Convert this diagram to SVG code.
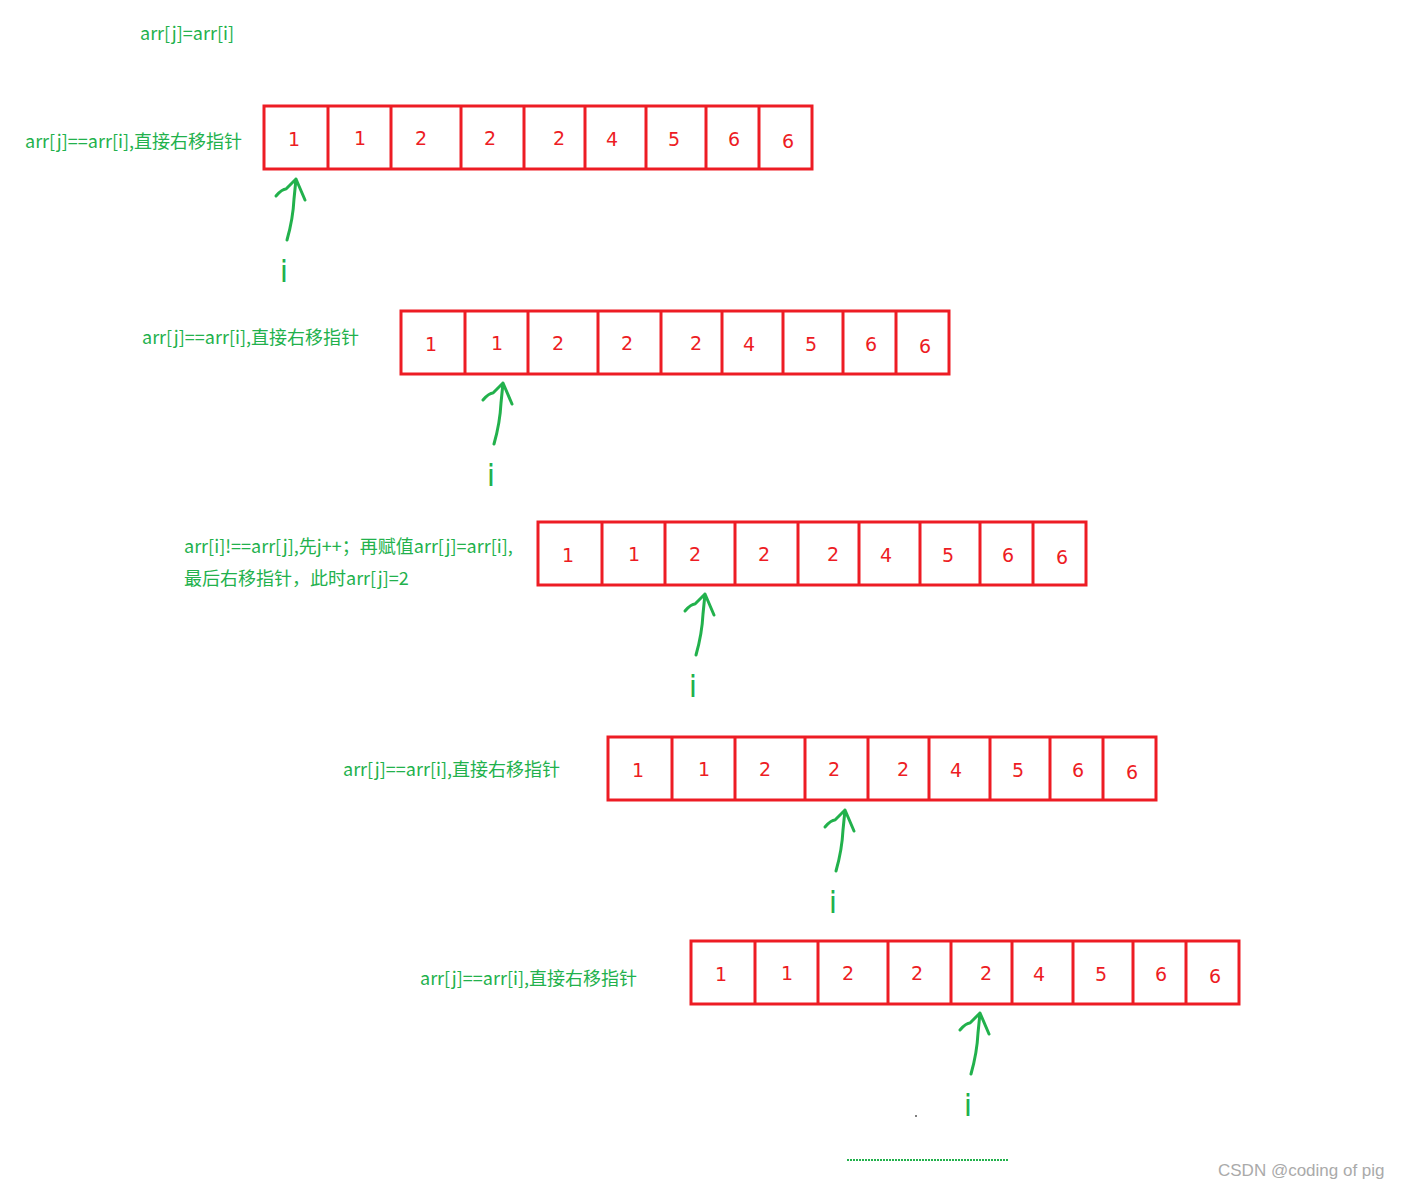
<svg xmlns="http://www.w3.org/2000/svg" width="1418" height="1189" viewBox="0 0 1418 1189">
<style>
.g{fill:#22b14c;font-family:"Microsoft YaHei","Noto Sans CJK SC",sans-serif;font-size:18px}
.n{fill:#ed1c24;font-family:"DejaVu Sans",sans-serif;font-size:19px;text-anchor:middle}
.c{fill:none;stroke:#ed1c24;stroke-width:3}
.a{fill:none;stroke:#22b14c;stroke-width:3;stroke-linecap:round;stroke-linejoin:round}
.i{fill:#22b14c;font-family:"DejaVu Sans",sans-serif;font-size:30px;text-anchor:middle}
</style>
<defs>
<g id="arr">
<rect class="c" x="0" y="0" width="548" height="63"/>
<path class="c" d="M64 0V63M127 0V63M197 0V63M260 0V63M321 0V63M382 0V63M442 0V63M495 0V63"/>
<text class="n" x="30" y="40">1</text><text class="n" x="96" y="39">1</text><text class="n" x="157" y="39">2</text><text class="n" x="226" y="39">2</text><text class="n" x="295" y="39">2</text><text class="n" x="348" y="40">4</text><text class="n" x="410" y="40">5</text><text class="n" x="470" y="40">6</text><text class="n" x="524" y="42">6</text>
</g>
<g id="ptr">
<path class="a" d="M-9 61 Q-3 40 -2 20 L0 0 M-20 17 Q-14 10 -10 10 L0 0 L9 21"/>
<text class="i" x="-12" y="103">i</text>
</g>
</defs>
<text class="g" x="140" y="40">arr[j]=arr[i]</text>
<g id="row1"><use href="#arr" x="264" y="106"/><text class="g" x="25" y="148">arr[j]==arr[i],直接右移指针</text></g>
<g id="row2"><use href="#arr" x="401" y="311"/><text class="g" x="142" y="344">arr[j]==arr[i],直接右移指针</text></g>
<g id="row3"><use href="#arr" x="538" y="522"/><text class="g" x="184" y="553">arr[i]!==arr[j],先j++；再赋值arr[j]=arr[i],</text><text class="g" x="184" y="585">最后右移指针，此时arr[j]=2</text></g>
<g id="row4"><use href="#arr" x="608" y="737"/><text class="g" x="343" y="776">arr[j]==arr[i],直接右移指针</text></g>
<g id="row5"><use href="#arr" x="691" y="941"/><text class="g" x="420" y="985">arr[j]==arr[i],直接右移指针</text></g>
<g id="connectors">
<use href="#ptr" x="296" y="179"/>
<use href="#ptr" x="503" y="383"/>
<use href="#ptr" x="705" y="594"/>
<use href="#ptr" x="845" y="810"/>
<use href="#ptr" x="980" y="1013"/>
</g>
<line x1="847" y1="1160" x2="1009" y2="1160" stroke="#22b14c" stroke-width="2" stroke-dasharray="2 1"/>
<circle cx="916" cy="1116" r="1" fill="#555"/>
<text x="1218" y="1176" style="fill:#aaa;font-family:'Liberation Sans',sans-serif;font-size:17px">CSDN @coding of pig</text>
</svg>
